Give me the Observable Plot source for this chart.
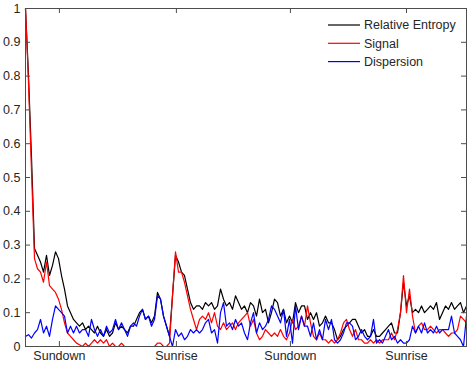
<!DOCTYPE html>
<html>
<head>
<meta charset="utf-8">
<script src="https://cdn.jsdelivr.net/npm/d3@7"></script>
<script src="https://cdn.jsdelivr.net/npm/@observablehq/plot@0.6"></script>
<style>
  html, body { margin: 0; padding: 0; background: #fff; }
  #chart { width: 474px; height: 368px; }
</style>
</head>
<body>
<div id="chart"></div>
<script>
// Series values (one sample per time step)
const relativeEntropy = [1.0,0.80,0.56,0.29,0.27,0.25,0.22,0.27,0.21,0.24,0.28,0.26,0.21,0.17,0.12,0.10,0.08,0.07,0.06,0.07,
0.05,0.06,0.05,0.04,0.06,0.04,0.03,0.05,0.03,0.04,0.07,0.05,0.06,0.05,0.04,0.06,0.06,0.08,0.10,0.11,
0.08,0.09,0.07,0.09,0.16,0.14,0.09,0.06,0.03,0.15,0.27,0.25,0.22,0.21,0.17,0.13,0.11,0.12,0.12,0.11,
0.13,0.12,0.13,0.11,0.12,0.17,0.14,0.12,0.13,0.11,0.15,0.13,0.11,0.12,0.10,0.13,0.12,0.09,0.14,0.10,
0.11,0.07,0.10,0.14,0.13,0.09,0.11,0.07,0.09,0.07,0.13,0.10,0.12,0.12,0.08,0.10,0.08,0.10,0.06,0.07,
0.09,0.07,0.07,0.05,0.02,0.03,0.05,0.06,0.07,0.08,0.08,0.06,0.04,0.05,0.03,0.03,0.05,0.03,0.03,0.04,
0.05,0.06,0.07,0.04,0.04,0.10,0.19,0.12,0.15,0.10,0.11,0.10,0.12,0.10,0.11,0.12,0.11,0.13,0.08,0.10,
0.12,0.11,0.13,0.11,0.12,0.13,0.10,0.12];
const signal = [1.0,0.78,0.52,0.26,0.23,0.22,0.19,0.25,0.18,0.17,0.16,0.14,0.11,0.07,0.04,0.03,0.02,0.01,0.005,0.0,
0.01,0.0,0.01,0.02,0.01,0.02,0.01,0.02,0.0,0.01,0.0,0.0,0.01,0.0,0.0,0.0,0.0,0.0,0.0,0.0,
0.0,0.0,0.0,0.0,0.01,0.01,0.0,0.0,0.01,0.15,0.28,0.22,0.22,0.19,0.15,0.11,0.08,0.05,0.08,0.09,
0.08,0.10,0.07,0.10,0.06,0.05,0.07,0.05,0.06,0.07,0.05,0.07,0.08,0.09,0.10,0.06,0.08,0.04,0.02,0.03,
0.05,0.04,0.03,0.04,0.03,0.05,0.03,0.02,0.04,0.08,0.05,0.06,0.09,0.06,0.12,0.07,0.03,0.02,0.04,0.02,
0.02,0.01,0.02,0.01,0.02,0.04,0.07,0.08,0.05,0.03,0.05,0.02,0.02,0.01,0.01,0.02,0.01,0.02,0.01,0.02,
0.02,0.02,0.04,0.02,0.05,0.10,0.21,0.10,0.17,0.09,0.04,0.06,0.07,0.05,0.05,0.06,0.05,0.04,0.05,0.05,
0.04,0.03,0.04,0.04,0.05,0.09,0.08,0.07];
const dispersion = [0.03,0.035,0.025,0.04,0.05,0.08,0.04,0.06,0.03,0.08,0.12,0.11,0.10,0.09,0.04,0.06,0.04,0.06,0.04,0.05,
0.05,0.03,0.08,0.05,0.03,0.05,0.03,0.06,0.04,0.05,0.08,0.05,0.07,0.05,0.03,0.06,0.07,0.06,0.09,0.11,
0.08,0.09,0.06,0.08,0.15,0.14,0.09,0.06,0.03,0.0,0.05,0.03,0.04,0.02,0.03,0.05,0.04,0.05,0.04,0.05,
0.07,0.08,0.04,0.05,0.01,0.10,0.13,0.06,0.07,0.05,0.08,0.06,0.07,0.04,0.02,0.07,0.10,0.04,0.07,0.05,
0.06,0.08,0.12,0.11,0.09,0.07,0.11,0.03,0.08,0.01,0.12,0.05,0.09,0.06,0.06,0.03,0.07,0.02,0.05,0.02,
0.08,0.05,0.08,0.02,0.01,0.02,0.04,0.07,0.07,0.06,0.02,0.03,0.05,0.03,0.02,0.03,0.08,0.01,0.02,0.01,
0.03,0.05,0.02,0.03,0.01,0.02,0.01,0.01,0.02,0.06,0.04,0.06,0.04,0.07,0.04,0.05,0.04,0.06,0.04,0.05,
0.05,0.05,0.09,0.04,0.03,0.02,0.0,0.09];

const seriesNames = ["Relative Entropy", "Signal", "Dispersion"];
const seriesColors = ["#000000", "#ff0000", "#0000ff"];
const xTickPositions = [11.3, 50.3, 88.3, 127];
const xTickLabels = ["Sundown", "Sunrise", "Sundown", "Sunrise"];
const yTickValues = [0, 0.1, 0.2, 0.3, 0.4, 0.5, 0.6, 0.7, 0.8, 0.9, 1];

const seriesValues = [relativeEntropy, signal, dispersion];
const rows = seriesValues.flatMap((vals, s) =>
  vals.map((v, i) => ({t: i, v, series: seriesNames[s]})));

const W = 474, H = 368;
const mL = 25, mR = 8, mT = 8, mB = 22;
const fw = W - mL - mR, fh = H - mT - mB;
const tickLen = 5;
const axisColor = "#4d4d4d";
const textColor = "#262626";
const nMax = relativeEntropy.length - 1;

const plot = Plot.plot({
  width: W, height: H,
  marginLeft: mL, marginRight: mR, marginTop: mT, marginBottom: mB,
  style: {fontFamily: "'Liberation Sans', Arial, sans-serif", fontSize: "12.5px", color: textColor, background: "#fff"},
  x: {domain: [0, nMax]},
  y: {domain: [0, 1]},
  marks: [
    ...seriesNames.map((name, s) => Plot.line(rows.filter(r => r.series === name), {
      x: "t", y: "v", stroke: seriesColors[s], strokeWidth: 1.2
    })),
    Plot.frame({stroke: axisColor, strokeWidth: 1}),
    // inward ticks
    Plot.tickY(yTickValues, {y: d => d, stroke: axisColor, insetRight: fw - tickLen}),
    Plot.tickY(yTickValues, {y: d => d, stroke: axisColor, insetLeft: fw - tickLen}),
    Plot.tickX(xTickPositions, {x: d => d, stroke: axisColor, insetTop: fh - tickLen}),
    Plot.tickX(xTickPositions, {x: d => d, stroke: axisColor, insetBottom: fh - tickLen}),
    Plot.axisY({ticks: yTickValues, tickSize: 0, tickPadding: 5, tickFormat: d => d3.format("~g")(d), label: null, fill: textColor}),
    Plot.axisX({ticks: xTickPositions, tickSize: 0, tickPadding: 5, tickFormat: (d, i) => xTickLabels[i], label: null, fill: textColor})
  ]
});

document.getElementById("chart").appendChild(plot);

// Legend (top-right, inside the axes, no box)
const svg = d3.select(plot);
const lg = svg.append("g")
  .attr("font-family", "'Liberation Sans', Arial, sans-serif")
  .attr("font-size", "12.5px")
  .attr("text-anchor", "start");
seriesNames.forEach((name, i) => {
  const y = 25 + i * 18.3;
  lg.append("line").attr("x1", 328).attr("x2", 360).attr("y1", y).attr("y2", y)
    .attr("stroke", seriesColors[i]).attr("stroke-width", 1.2);
  lg.append("text").attr("x", 364).attr("y", y).attr("dy", "0.35em")
    .attr("text-anchor", "start").attr("fill", textColor).text(name);
});
</script>
</body>
</html>
